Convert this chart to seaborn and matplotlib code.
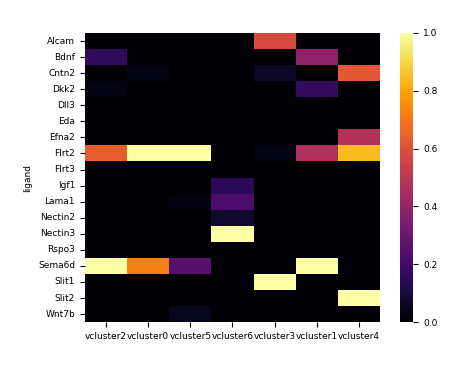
import numpy as np
import pandas as pd
import matplotlib.pyplot as plt
import seaborn as sns

ligands = ["Alcam", "Bdnf", "Cntn2", "Dkk2", "Dll3", "Eda", "Efna2", "Flrt2", "Flrt3",
           "Igf1", "Lama1", "Nectin2", "Nectin3", "Rspo3", "Sema6d", "Slit1", "Slit2", "Wnt7b"]
clusters = ["vcluster2", "vcluster0", "vcluster5", "vcluster6", "vcluster3", "vcluster1", "vcluster4"]

vcluster2 = [0, 0.16, 0, 0.03, 0, 0, 0, 0.64, 0, 0, 0, 0, 0, 0, 1.0, 0, 0, 0]
vcluster0 = [0, 0, 0.03, 0, 0, 0, 0, 1.0, 0, 0, 0, 0, 0, 0, 0.72, 0, 0, 0]
vcluster5 = [0, 0, 0, 0, 0, 0, 0, 1.0, 0, 0, 0.02, 0, 0, 0, 0.25, 0, 0, 0.05]
vcluster6 = [0, 0, 0, 0, 0, 0, 0, 0, 0, 0.15, 0.22, 0.08, 1.0, 0, 0, 0, 0, 0]
vcluster3 = [0.58, 0, 0.07, 0, 0, 0, 0, 0.03, 0, 0, 0, 0, 0, 0, 0, 1.0, 0, 0]
vcluster1 = [0, 0.38, 0, 0.17, 0, 0, 0, 0.47, 0, 0, 0, 0, 0, 0, 1.0, 0, 0, 0]
vcluster4 = [0, 0, 0.62, 0, 0, 0, 0.48, 0.84, 0, 0, 0, 0, 0, 0, 0, 0, 1.0, 0]

df = pd.DataFrame({"vcluster2": vcluster2, "vcluster0": vcluster0, "vcluster5": vcluster5,
                   "vcluster6": vcluster6, "vcluster3": vcluster3, "vcluster1": vcluster1,
                   "vcluster4": vcluster4}, index=ligands)
df.index.name = "ligand"

fig = plt.figure(figsize=(4.74, 3.79), dpi=100)
ax = fig.add_axes([0.179, 0.150, 0.623, 0.763])
cax = fig.add_axes([0.844, 0.150, 0.028, 0.763])

sns.heatmap(df, cmap="inferno", vmin=0, vmax=1, ax=ax, cbar_ax=cax)
ax.set_xticks(np.arange(len(clusters)) + 0.5)
ax.set_xticklabels(clusters, rotation=0, fontsize=6.5)
ax.set_yticks(np.arange(len(ligands)) + 0.5)
ax.set_yticklabels(ligands, rotation=0, fontsize=6.5)
ax.set_ylabel("ligand", fontsize=6.5)
ax.set_xlabel("")
cax.tick_params(labelsize=6.5)

fig.savefig("out.png", dpi=100)
